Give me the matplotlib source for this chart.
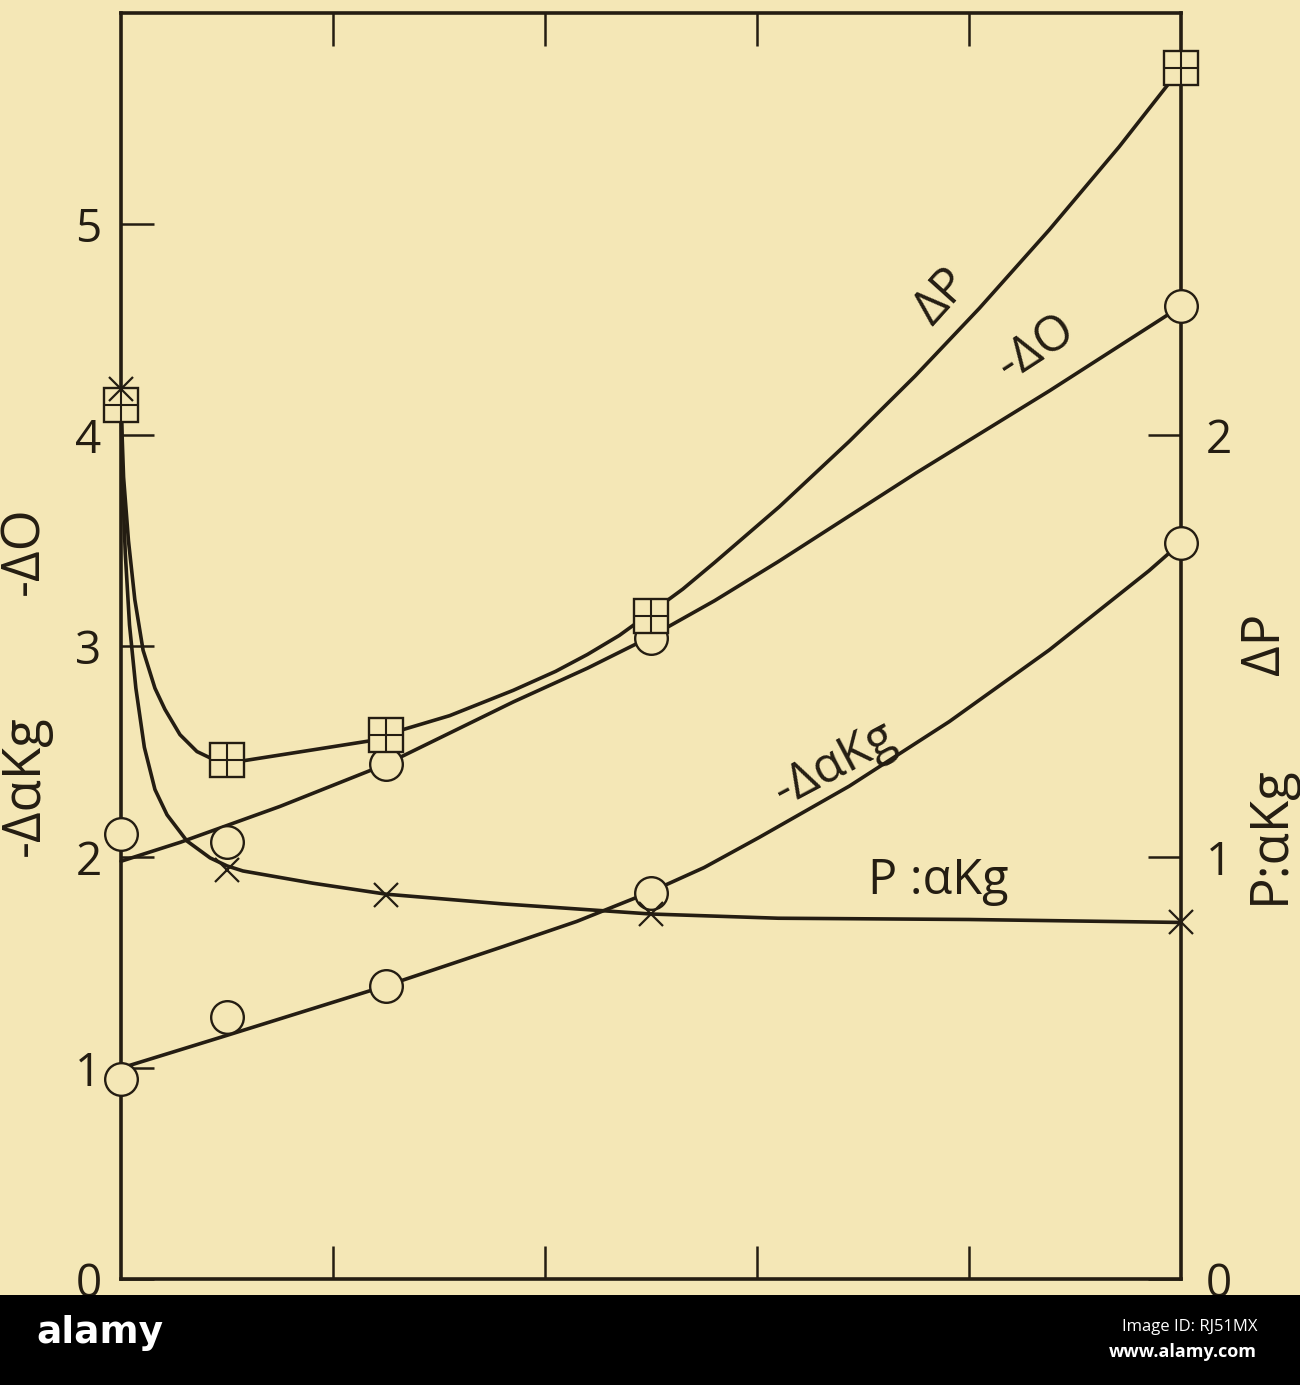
"""
双纵轴图: -ΔαKg, -ΔO (左轴) 与 P:αKg, ΔP (右轴)
"""
import matplotlib
matplotlib.use('Agg')
import matplotlib.pyplot as plt
from matplotlib.patches import Rectangle

plt.rcParams['font.family'] = ['Open Sans', 'DejaVu Sans']

paper = '#f4e7b6'
ink = '#241d12'

# 测量点的横坐标
x_pts = [0, 0.5, 1.25, 2.5, 5]
# 左轴数据
dO_pts = [2.11, 2.07, 2.44, 3.04, 4.61]
dak_pts = [0.95, 1.24, 1.39, 1.83, 3.49]
# 右轴数据
dP_pts = [2.07, 1.23, 1.29, 1.57, 2.87]
pak_pts = [2.11, 0.97, 0.91, 0.865, 0.845]

# 手绘的拟合曲线
dO_cx = [0, 0.28, 0.75, 1.25, 1.85, 2.2, 2.49, 2.8, 3.1, 3.75, 4.38, 5.0]
dO_cy = [1.98, 2.07, 2.24, 2.44, 2.735, 2.895, 3.04, 3.215, 3.40, 3.82, 4.21, 4.61]
dak_cx = [0, 0.5, 1.25, 1.8, 2.15, 2.49, 2.75, 3.01, 3.435, 3.907, 4.378, 4.849, 5.0]
dak_cy = [1.0, 1.155, 1.39, 1.575, 1.695, 1.832, 1.95, 2.093, 2.336, 2.642, 2.981,
          3.357, 3.49]
dP_cx = [0, 0.012, 0.035, 0.065, 0.104, 0.16, 0.207, 0.278, 0.358, 0.42, 0.5,
         0.575, 0.905, 1.17, 1.25, 1.55, 1.85, 2.05, 2.2, 2.35, 2.49, 2.65, 2.80,
         3.105, 3.435, 3.746, 4.048, 4.378, 4.708, 5.0]
dP_cy = [2.07, 1.90, 1.75, 1.61, 1.49, 1.40, 1.35, 1.29, 1.25, 1.235, 1.227,
         1.228, 1.254, 1.275, 1.29, 1.335, 1.395, 1.44, 1.48, 1.525, 1.576, 1.635,
         1.698, 1.83, 1.985, 2.14, 2.30, 2.486, 2.683, 2.87]
pak_cx = [0, 0.006, 0.02, 0.04, 0.07, 0.11, 0.16, 0.217, 0.311, 0.42, 0.5, 0.575,
          0.905, 1.25, 1.8, 2.5, 3.1, 4.0, 5.0]
pak_cy = [2.11, 1.90, 1.72, 1.55, 1.40, 1.26, 1.16, 1.10, 1.038, 0.998, 0.979,
          0.967, 0.938, 0.912, 0.889, 0.865, 0.855, 0.852, 0.845]

fig = plt.figure(figsize=(13, 13.85), dpi=100, facecolor=paper)
ax = fig.add_axes([0.0931, 0.0765, 0.8154, 0.9141])
ax.set_facecolor(paper)
ax2 = ax.twinx()

line_kw = dict(color=ink, lw=2.6, solid_joinstyle='round', solid_capstyle='round',
               clip_on=False)
ax.plot(dO_cx, dO_cy, zorder=2, **line_kw)
ax.plot(dak_cx, dak_cy, zorder=2, **line_kw)
ax2.plot(dP_cx, dP_cy, zorder=2, **line_kw)
ax2.plot(pak_cx, pak_cy, zorder=2, **line_kw)

# 标记
circ = dict(ls='none', marker='o', ms=23.5, mfc=paper, mec=ink, mew=1.7, zorder=4,
            clip_on=False)
ax.plot(x_pts, dO_pts, **circ)
ax.plot(x_pts, dak_pts, **circ)
ax2.plot(x_pts, dP_pts, ls='none', marker='s', ms=24, mfc=paper, mec=ink, mew=1.7,
         zorder=5, clip_on=False)
ax2.plot(x_pts, dP_pts, ls='none', marker='+', ms=24, mec=ink, mew=1.5, zorder=6,
         clip_on=False)
ax2.plot(x_pts, pak_pts, ls='none', marker='x', ms=17, mec=ink, mew=1.6, zorder=6,
         clip_on=False)

# 坐标轴
ax.set_xlim(0, 5)
ax.set_ylim(0, 6)
ax2.set_ylim(0, 3)
ax.set_xticks([1, 2, 3, 4])
ax.set_yticks([0, 1, 2, 3, 4, 5])
ax2.set_yticks([0, 1, 2])
ax.tick_params(axis='x', direction='in', top=True, bottom=True, labelbottom=False,
               length=24, width=1.8, color=ink)
ax.tick_params(axis='y', direction='in', left=True, right=False, length=24, width=1.8,
               color=ink, labelsize=33, labelcolor=ink, pad=14)
ax2.tick_params(axis='y', direction='in', length=24, width=1.8, color=ink,
                labelsize=33, labelcolor=ink, pad=18)
for s in ax.spines.values():
    s.set_linewidth(2.6)
    s.set_color(ink)
for s in ax2.spines.values():
    s.set_visible(False)

# 曲线标注
ax.text(3.874, 4.654, 'ΔP', rotation=48, rotation_mode='anchor', ha='center',
        va='center', fontsize=35, color=ink)
ax.text(4.317, 4.413, '-ΔO', rotation=33, rotation_mode='anchor', ha='center',
        va='center', fontsize=35, color=ink)
ax.text(3.365, 2.438, '-ΔαKg', rotation=28, rotation_mode='anchor', ha='center',
        va='center', fontsize=35, color=ink)
ax.text(3.855, 1.823, 'P :αKg', ha='center', va='baseline', fontsize=35, color=ink)

# 纵轴标题
fig.text(25 / 1300, 1 - 551 / 1385, '-ΔO', rotation=90, ha='center', va='center',
         fontsize=38, color=ink)
fig.text(25 / 1300, 1 - 786 / 1385, '-ΔαKg', rotation=90, ha='center', va='center',
         fontsize=38, color=ink)
fig.text(1265 / 1300, 1 - 644 / 1385, 'ΔP', rotation=90, ha='center', va='center',
         fontsize=38, color=ink)
fig.text(1270 / 1300, 1 - 835 / 1385, 'P:αKg', rotation=90, ha='center', va='center',
         fontsize=38, color=ink)

# 底部黑条
fig.patches.append(Rectangle((0, 0), 1, 90 / 1385, transform=fig.transFigure,
                             facecolor='black', edgecolor='none', zorder=10))
fig.text(100 / 1300, 1 - 1333 / 1385, 'alamy', ha='center', va='center', color='white',
         fontsize=27, fontweight='bold', family=['Liberation Sans Narrow', 'DejaVu Sans'],
         zorder=11)
fig.text(1190 / 1300, 1 - 1327 / 1385, 'Image ID: RJ51MX', ha='center', va='center',
         color='white', fontsize=12, zorder=11)
fig.text(1183 / 1300, 1 - 1352 / 1385, 'www.alamy.com', ha='center', va='center',
         color='white', fontsize=13, fontweight='bold', zorder=11)

fig.savefig('out.png', dpi=100, facecolor=paper)
